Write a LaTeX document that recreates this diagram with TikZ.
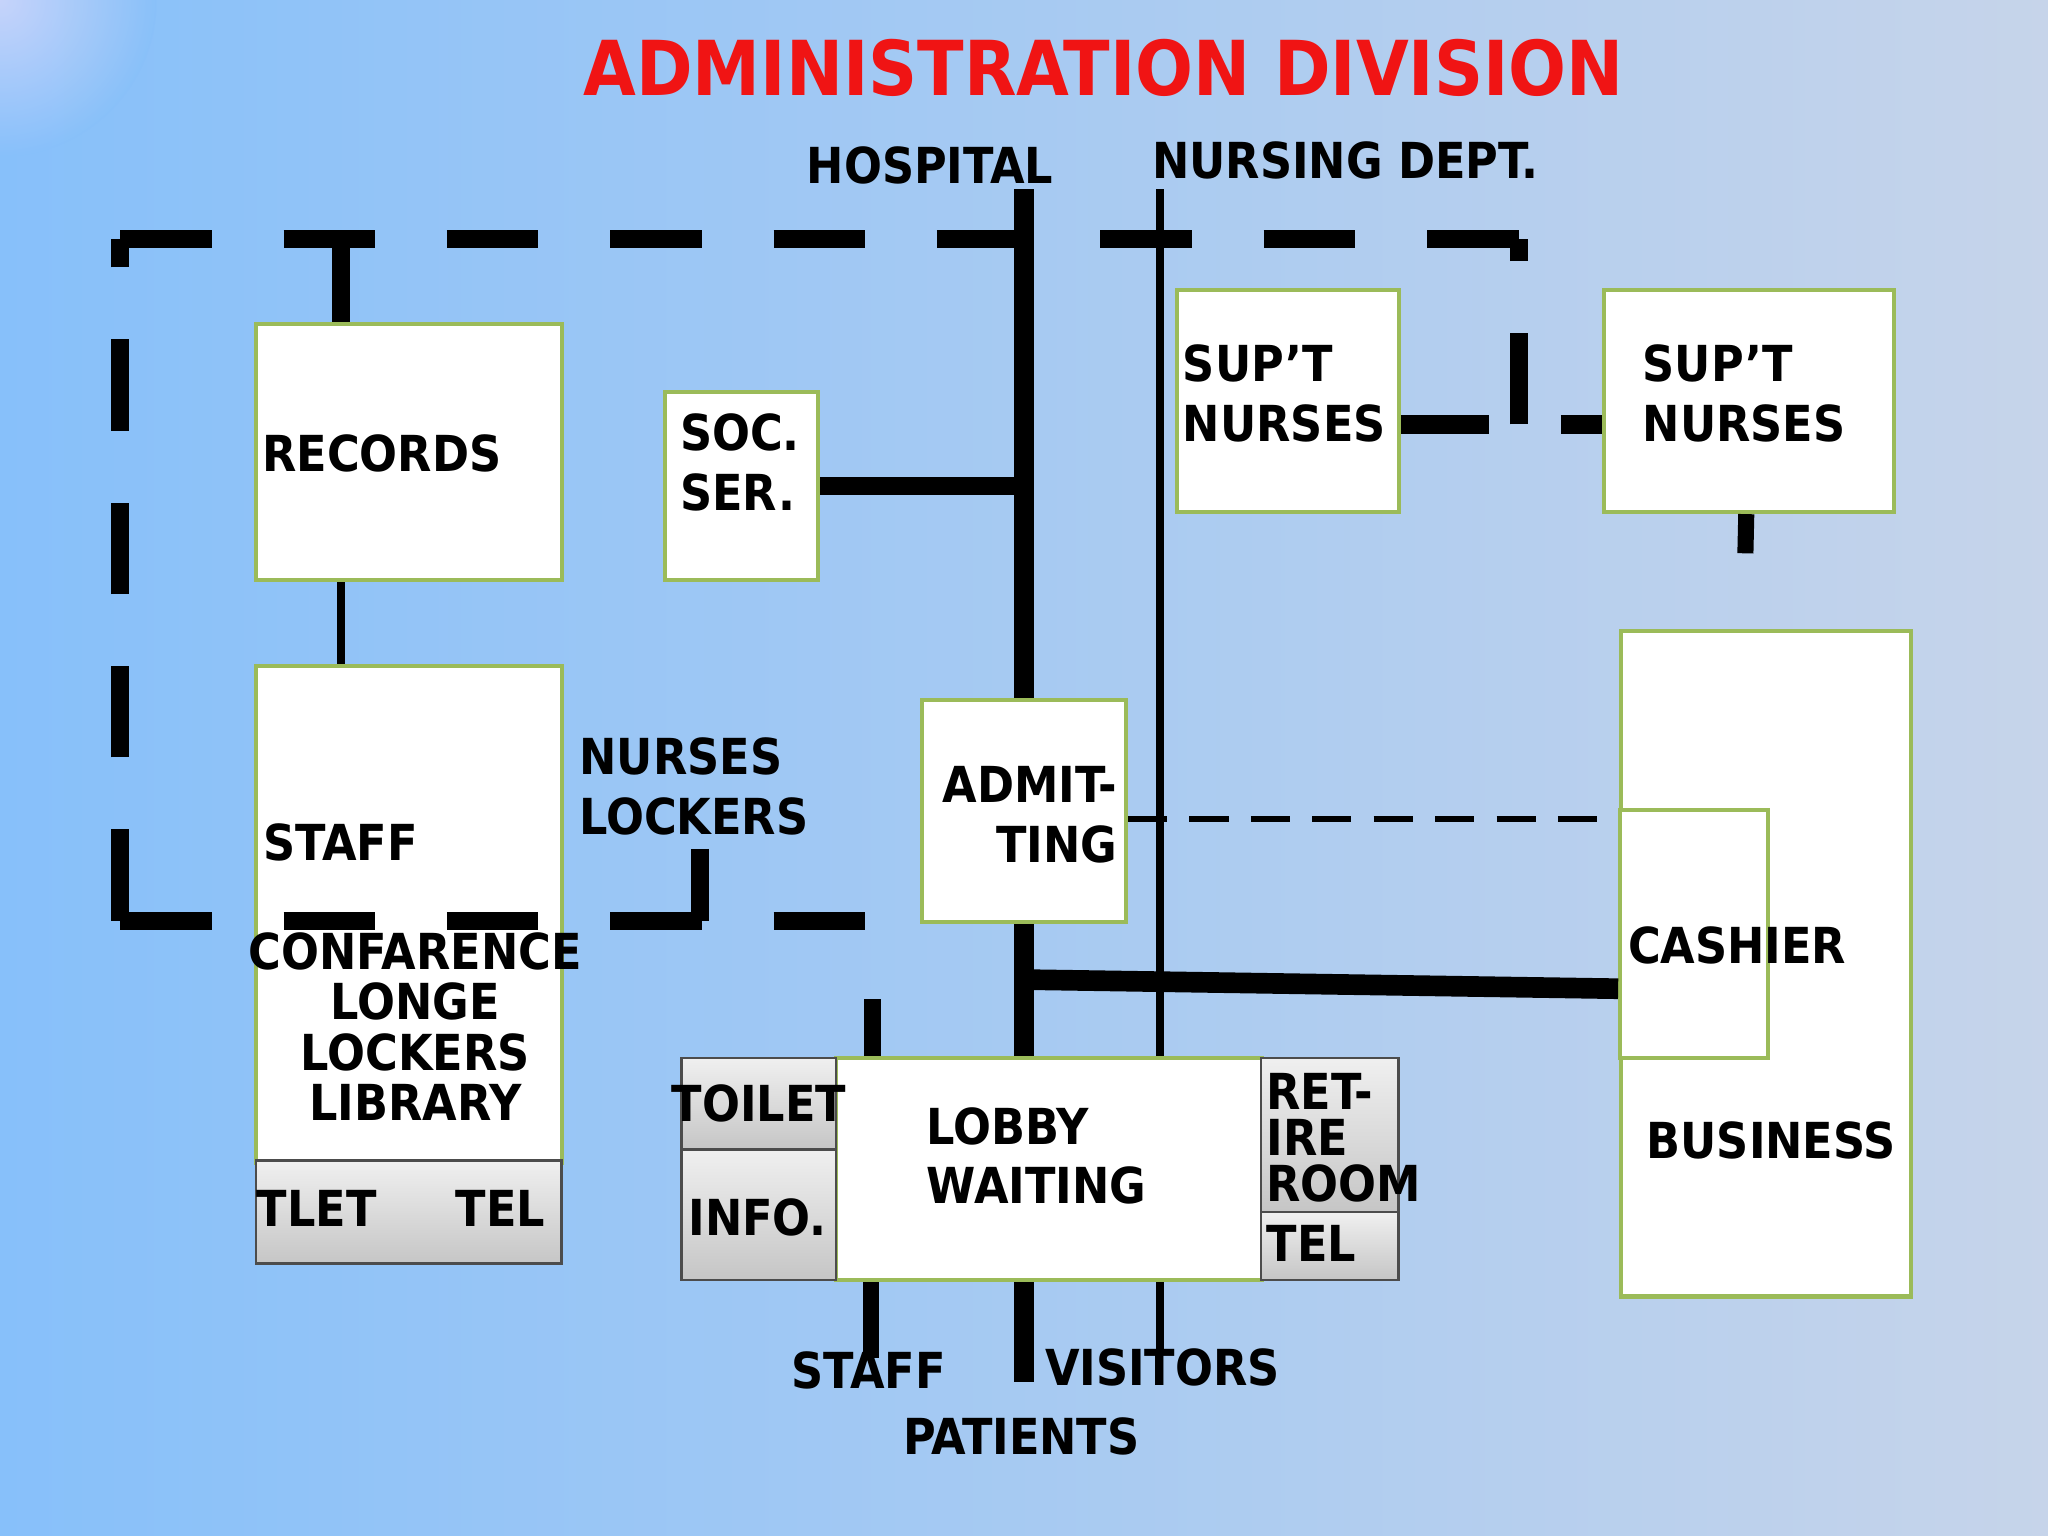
\documentclass[tikz,border=0pt]{standalone}
\usepackage{fontspec}
\setmainfont{DejaVu Sans Condensed}
\usetikzlibrary{positioning}
\definecolor{roomgreen}{RGB}{155,187,89}
\definecolor{titlered}{RGB}{240,20,20}
\tikzset{
  room/.style={draw=roomgreen, line width=0.9pt, fill=white, inner sep=0pt},
  booth/.style={draw=black!70, line width=0.6pt, top color=gray!12, bottom color=gray!45, inner sep=0pt},
  lbl/.style={font=\fontsize{10.8}{13}\selectfont\bfseries, align=left, inner sep=0pt},
  wall/.style={line width=4pt, dash pattern=on 0.7cm off 0.55cm},
  hall/.style={line width=4.5pt},
}
\begin{document}
\begin{tikzpicture}[x=0.01cm,y=-0.01cm]
\useasboundingbox (0,0) rectangle (1568,1176);
\shade[left color={rgb,255:red,135;green,192;blue,250}, right color={rgb,255:red,198;green,212;blue,234}] (0,0) rectangle (1568,1176);
\shade[inner color={rgb,255:red,240;green,225;blue,250}, outer color={rgb,255:red,135;green,192;blue,250}, opacity=0.6] (0,0) circle [radius=120];
% title
\node[font=\fontsize{16.5}{20}\selectfont\bfseries, text=titlered] (title) at (845,52) {ADMINISTRATION DIVISION};
% rooms
\node[room, minimum width=2.34cm, minimum height=1.96cm] (records) at (313,346) {};
\node[room, minimum width=1.17cm, minimum height=1.44cm] (soc) at (568,372) {};
\node[room, minimum width=1.70cm, minimum height=1.70cm] (supA) at (986,307) {};
\node[room, minimum width=2.22cm, minimum height=1.70cm] (supB) at (1339,307) {};
\node[room, minimum width=2.34cm, minimum height=3.80cm] (staff) at (313,700) {};
\node[booth, minimum width=2.34cm, minimum height=0.79cm] (tlet) at (313,928) {};
\node[room, minimum width=1.56cm, minimum height=1.70cm] (admit) at (784,621) {};
\node[room, minimum width=2.22cm, minimum height=5.09cm] (business) at (1352,738) {};
\node[room, minimum width=1.13cm, minimum height=1.90cm] (cashier) at (1297,715) {};
\node[room, minimum width=3.26cm, minimum height=1.70cm] (lobby) at (803,895) {};
\node[booth, minimum width=1.18cm, minimum height=0.70cm] (toilet) at (581,845) {};
\node[booth, minimum width=1.18cm, minimum height=1.00cm] (info) at (581,930) {};
\node[booth, minimum width=1.05cm, minimum height=1.18cm] (retire) at (1018,869) {};
\node[booth, minimum width=1.05cm, minimum height=0.52cm] (tel) at (1018,954) {};
% dashed wall of the division
\coordinate (cornerNW) at (92,183);
\coordinate (cornerSW) at (92,705);
\coordinate (cornerNE) at (1163,183);
\coordinate (wallE) at (1163,325);
\draw[wall] (cornerNW) -- (cornerNE);
\draw[wall] (cornerSW) -- (cornerNW);
\draw[wall] (cornerSW) -- (673,705);
\draw[wall] (wallE) -- (cornerNE);
\draw[line width=4pt] (supA.east |- wallE) -- (1140,325);
\draw[line width=4pt] (1195,325) -- (supB.west |- wallE);
\draw[line width=4pt] (536,650) -- (536,705);
% room labels
\node[lbl, anchor=west] (recordsT) at (200,347) {RECORDS};
\node[lbl, anchor=west] (socT) at (520,354) {SOC.\\SER.};
\node[lbl, anchor=west] (supAT) at (905,301) {SUP’T\\NURSES};
\node[lbl, anchor=west] (supBT) at (1257,301) {SUP’T\\NURSES};
\node[lbl, anchor=west] (staffT) at (201,645) {STAFF};
\node[lbl, align=center] (confT) at (318,786) {CONFARENCE\\[-2pt]LONGE\\[-2pt]LOCKERS\\[-2pt]LIBRARY};
\node[lbl, anchor=west] (tletT) at (196,925) {TLET};
\node[lbl] (telAT) at (383,925) {TEL};
\node[lbl, align=right, anchor=east] (admitT) at (856,624) {ADMIT-\\TING};
\node[lbl, anchor=west] (lobbyT) at (709,885) {LOBBY\\WAITING};
\node[lbl] (toiletT) at (581,845) {TOILET};
\node[lbl] (infoT) at (580,932) {INFO.};
\node[lbl, anchor=west] (retireT) at (969,871) {RET-\\[-3pt]IRE\\[-3pt]ROOM};
\node[lbl, anchor=west] (telBT) at (969,952) {TEL};
\node[lbl] (cashierT) at (1330,724) {CASHIER};
\node[lbl] (businessT) at (1356,873) {BUSINESS};
% free labels
\node[lbl] (hospT) at (712,127) {HOSPITAL};
\node[lbl] (nursT) at (1030,123) {NURSING DEPT.};
\node[lbl, anchor=west] (lockT) at (443,602) {NURSES\\LOCKERS};
\node[lbl] (staffIn) at (665,1049) {STAFF};
\node[lbl] (visIn) at (890,1047) {VISITORS};
\node[lbl] (patIn) at (782,1100) {PATIENTS};
% end points
\coordinate (hospTop) at (784,145);
\coordinate (nursTop) at (888,145);
\coordinate (hospEnd) at (784,1058);
\coordinate (nursEnd) at (888,1035);
\coordinate (staffEnd) at (667,1040);
\coordinate (staffTop) at (668,765);
\coordinate (wallTop) at (261,183);
\draw[line width=4pt] (records.north -| wallTop) -- (wallTop);
\draw[line width=1.6pt] (records.south -| wallTop) -- (staff.north -| wallTop);
\draw[line width=3.5pt, dash pattern=on 0.3cm off 0.6cm] (supB.south -| 1337,0) -- (business.north -| 1335,0);
% corridors
\draw[hall] (hospTop) -- (admit.north);
\draw[hall] (admit.south) -- (lobby.north -| admit);
\draw[hall] (lobby.south -| hospEnd) -- (hospEnd);
\draw[line width=1.7pt] (nursTop) -- (lobby.north -| nursTop);
\draw[line width=1.7pt] (lobby.south -| nursEnd) -- (nursEnd);
\draw[line width=4pt] (soc.east) -- (soc.east -| hospTop);
\draw[line width=1.2pt, dash pattern=on 0.3cm off 0.17cm] (admit.east |- 0,627) -- (cashier.west |- 0,627);
\draw[hall] (784,750) -- (cashier.west |- 0,757);
\draw[line width=3.5pt] (staffTop) -- (lobby.north -| staffTop);
\draw[line width=3.5pt] (lobby.south -| staffEnd) -- (staffEnd);
\end{tikzpicture}
\end{document}
